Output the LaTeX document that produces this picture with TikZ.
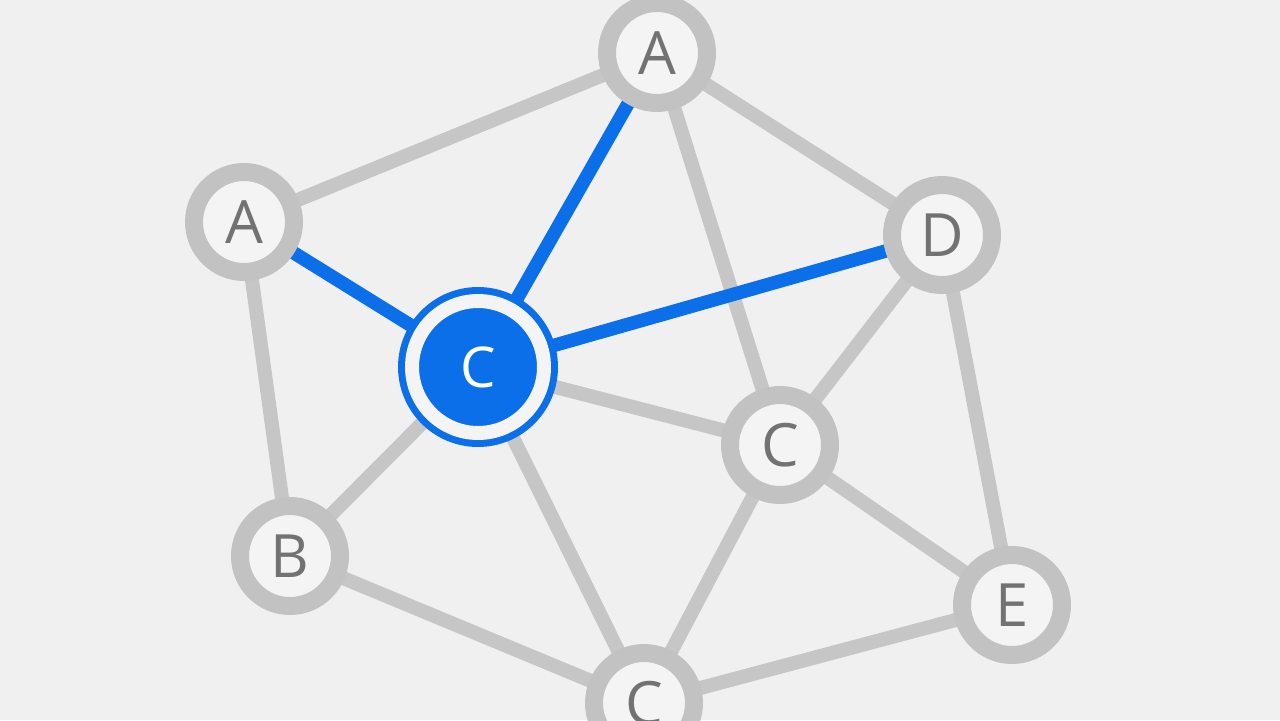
\documentclass[tikz,border=0pt]{standalone}
\usepackage{fontspec}
\setmainfont{Open Sans}
\usepackage{xcolor}
\usetikzlibrary{backgrounds}
\definecolor{bgcol}{HTML}{F0F0F0}
\definecolor{innercol}{HTML}{F4F4F4}
\definecolor{ringgray}{HTML}{C2C2C2}
\definecolor{edgegray}{HTML}{C6C6C6}
\definecolor{labelgray}{HTML}{727272}
\definecolor{pickblue}{HTML}{0A6FE8}

\begin{document}
\begin{tikzpicture}[%
    x=0.02cm,
    y=-0.02cm,
    vertex/.style={%
      circle,
      minimum size=2cm,
      inner sep=0pt,
      line width=0.36cm,
      draw=ringgray,
      fill=innercol,
      text=labelgray,
      font=\fontsize{34}{40}\selectfont
    },
    picked/.style={%
      circle,
      minimum size=2.64cm,
      inner sep=0pt,
      line width=0.14cm,
      draw=pickblue,
      double=innercol,
      double distance=0.28cm,
      fill=pickblue,
      text=white,
      font=\fontsize{32}{38}\selectfont
    },
    link/.style={line width=0.28cm, draw=edgegray},
    hot/.style={line width=0.27cm, draw=pickblue}
  ]
    \useasboundingbox (0,0) rectangle (1280,720);

    \node[vertex] (atop)   at (657,53)  {A};
    \node[vertex] (aleft)  at (244,222) {A};
    \node[vertex] (d)      at (942,235) {D};
    \node[vertex] (cmid)   at (780,445) {C};
    \node[vertex] (b)      at (290,556) {B};
    \node[vertex] (e)      at (1012,605) {E};
    \node[vertex] (cbot)   at (644,703) {C};
    \node[picked] (hub)    at (478,367) {C};

    \begin{scope}[on background layer]
      \fill[bgcol] (0,0) rectangle (1280,720);
      \path (atop.center)  edge [link] (aleft.center)
            (atop.center)  edge [link] (d.center)
            (atop.center)  edge [link] (cmid.center)
            (aleft.center) edge [link] (b.center)
            (d.center)     edge [link] (cmid.center)
            (d.center)     edge [link] (e.center)
            (cmid.center)  edge [link] (hub.center)
            (cmid.center)  edge [link] (e.center)
            (cmid.center)  edge [link] (cbot.center)
            (hub.center)   edge [link] (b.center)
            (hub.center)   edge [link] (cbot.center)
            (b.center)     edge [link] (cbot.center)
            (cbot.center)  edge [link] (e.center)
            (hub.center)   edge [hot]  (aleft.center)
            (hub.center)   edge [hot]  (atop.center)
            (hub.center)   edge [hot]  (d.center)
            ;
    \end{scope}
  \end{tikzpicture}
\end{document}
